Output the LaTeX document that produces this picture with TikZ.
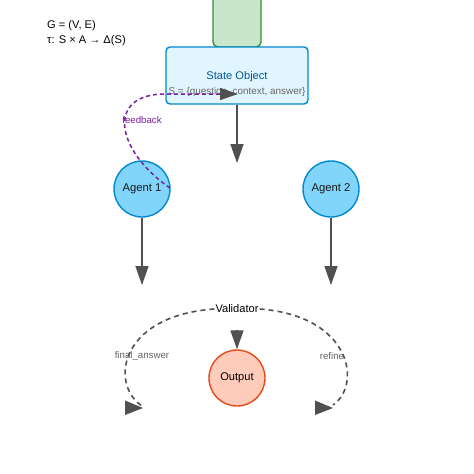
\documentclass[tikz,border=0pt]{standalone}
\usepackage{fontspec}
\setmainfont{Liberation Sans}
\usetikzlibrary{arrows.meta}
\definecolor{tipgray}{HTML}{505050}
\definecolor{grnfill}{HTML}{C8E6C9}
\definecolor{grnline}{HTML}{388E3C}
\definecolor{bluefill}{HTML}{E1F5FE}
\definecolor{blueline}{HTML}{0288D1}
\definecolor{bluetext}{HTML}{01579B}
\definecolor{agentfill}{HTML}{81D4FA}
\definecolor{outfill}{HTML}{FFCCBC}
\definecolor{outline}{HTML}{E64A19}
\definecolor{fbpurple}{HTML}{7B1FA2}
\definecolor{lblgray}{HTML}{666666}
\tikzset{
  agentnode/.style={circle, draw=blueline, fill=agentfill, line width=1.4pt, minimum size=56pt, inner sep=0pt, font=\fontsize{11.3}{13}\selectfont, text=black!90},
  flowarrow/.style={draw=tipgray, line width=1.6pt, -{Triangle[length=19pt,width=13pt]}},
  dashgray/.style={draw=tipgray, line width=1.6pt, dash pattern=on 5pt off 4pt},
  smalllabel/.style={font=\fontsize{9.7}{11}\selectfont, text=lblgray},
  maintext/.style={font=\fontsize{11.1}{13}\selectfont},
}
\begin{document}
\begin{tikzpicture}[x=1pt,y=-1pt]
\useasboundingbox (0,0) rectangle (474,474);
\fill[white] (0,0) rectangle (474,474);

% top-left formulas
\node[maintext, anchor=base west, inner sep=0pt] (formA) at (47,28) {G = (V, E)};
\node[maintext, anchor=base west, inner sep=0pt] (formB) at (47,43) {τ: S × A → Δ(S)};

% green box (cut off at top)
\node[draw=grnline, fill=grnfill, line width=1.4pt, rounded corners=5pt, minimum width=48pt, minimum height=52pt, inner sep=0pt] (topbox) at (237,21) {};

% state object
\node[draw=blueline, fill=bluefill, line width=1.4pt, rounded corners=4pt, minimum width=142pt, minimum height=57pt, inner sep=0pt] (state) at (237,75.5) {};
\node[maintext, text=bluetext, inner sep=0pt] (statetitle) at (237,77) {State Object};
\node[font=\fontsize{9.9}{11}\selectfont, text=lblgray, inner sep=0pt] (stateset) at (237,92) {S = \{question, context, answer\}};

% agents
\node[agentnode] (agentA) at (142,189) {Agent 1};
\node[agentnode] (agentB) at (331,189) {Agent 2};

% downward arrows
\coordinate (endS) at (237,163);
\coordinate (endA) at (142,285);
\coordinate (endB) at (331,285);
\draw[flowarrow] (state.south) -- (endS);
\draw[flowarrow] (agentA.south) -- (endA);
\draw[flowarrow] (agentB.south) -- (endB);

% feedback
\coordinate (fbend) at (238,94);
\coordinate (fbstart) at (170,188);
\draw[draw=fbpurple, line width=1.5pt, dash pattern=on 4pt off 3pt, -{Triangle[length=18pt,width=12pt,color=tipgray,fill=tipgray]}]
  (fbstart) .. controls (115,150) and (106,94) .. (165,94) -- (fbend);
\node[font=\fontsize{9.7}{11}\selectfont, text=fbpurple, inner sep=0pt] (fblabel) at (142,120) {feedback};

% validator
\node[maintext, inner sep=1pt] (validator) at (237,309) {Validator};
\node[circle, draw=outline, fill=outfill, line width=1.4pt, minimum size=56pt, inner sep=0pt, maintext] (output) at (237,378) {Output};
\coordinate (vstart) at (237,330);
\draw[flowarrow] (vstart) -- (output.north);

\coordinate (lend) at (142,406);
\coordinate (rend) at (333,405);
\draw[dashgray] (validator.west) .. controls (118,316) and (110,385) .. (lend);
\draw[dashgray] (validator.east) .. controls (352,316) and (362,385) .. (rend);
\fill[tipgray] (143,408) -- (125,400.5) -- (125,415) -- cycle;
\fill[tipgray] (333,408) -- (315,400.5) -- (315,415) -- cycle;

\node[smalllabel, inner sep=0pt] (lblfinal) at (142,356) {final\_answer};
\node[smalllabel, inner sep=0pt] (lblrefine) at (332,356) {refine};
\end{tikzpicture}
\end{document}
